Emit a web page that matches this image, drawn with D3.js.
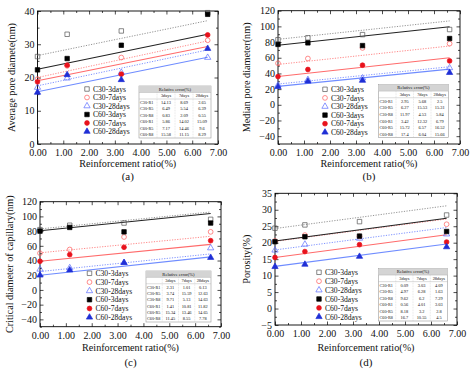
<!DOCTYPE html>
<html>
<head>
<meta charset="utf-8">
<script src="https://cdn.jsdelivr.net/npm/d3@7"></script>
<style>
  body { margin: 0; background: #fff; }
  svg { display: block; }
  text { font-family: "Liberation Serif", "Times New Roman", serif; fill: #111; }
</style>
</head>
<body>
<script>
// Datos
const ratios = [0, 1.15, 3.25, 6.6];
const seriesNames = ["C30-3days", "C30-7days", "C30-28days", "C60-3days", "C60-7days", "C60-28days"];
const rowNames = ["C30-R1", "C30-R5", "C30-R8", "C60-R1", "C60-R5", "C60-R8"];
const ageCols = ["3days", "7days", "28days"];

// (a) diametro medio de poro
const avgPore = [[26.3, 33, 34, 39.5], [19.5, 23.5, 26, 31.2], [17, 19.8, 21.5, 26], [22.3, 25.7, 29.7, 39], [18.7, 23.7, 21, 32.8], [15.5, 20.8, 19.3, 28.7]];
const avgPoreFit = [[26.6, 37.1], [20, 31], [17.5, 28.3], [22.5, 33], [19, 29.3], [15.7, 26.1]];
const avgPoreErr = [["14.13", "8.69", "2.65"], ["6.49", "5.54", "6.39"], ["0.83", "2.09", "0.55"], ["5.86", "14.02", "15.09"], ["7.17", "14.46", "9.6"], ["15.58", "11.15", "8.29"]];

// (b) diametro mediano
const medPore = [[83, 85.5, 89.5, 96], [53, 59, 72.5, 78], [25, 32, 34, 47], [77, 79, 75.5, 84.5], [36, 45, 50.5, 56], [23, 30, 31, 41]];
const medPoreFit = [[83.5, 107], [51.5, 75], [26.5, 48.5], [76, 99.5], [36, 60], [23.5, 45.5]];
const medPoreErr = [["2.95", "5.68", "2.5"], ["6.27", "15.53", "15.31"], ["11.97", "4.53", "5.84"], ["3.42", "12.32", "6.79"], ["15.72", "6.57", "16.52"], ["17.4", "6.04", "15.66"]];

// (c) diametro critico
const critDia = [[82, 88, 91, 96], [50, 55, 72, 79], [28, 30, 37, 57], [80, 85, 79, 91], [39, 48, 58, 67], [20, 27, 37, 44]];
const critDiaFit = [[83, 106], [50.5, 73], [25, 49], [80.5, 104], [39, 62], [20, 45]];
const critDiaErr = [["2.31", "1.01", "0.13"], ["3.74", "15.59", "12.63"], ["9.71", "5.13", "14.63"], ["1.41", "10.81", "11.82"], ["15.34", "13.46", "14.65"], ["11.45", "8.55", "7.78"]];

// (d) porosidad
const porosity = [[24.4, 25.4, 26.4, 28.4], [20.5, 22.3, 21.9, 25.6], [17.7, 19.5, 21.3, 22.6], [20.3, 21.8, 22.0, 23.4], [15.5, 17.3, 19.4, 20.2], [12.7, 13.4, 15.8, 18.7]];
const porosityFit = [[24.3, 31.2], [20.4, 27.2], [17.8, 24.6], [20.5, 27.4], [15.5, 22.4], [12.8, 19.6]];
const porosityErr = [["0.09", "3.03", "4.09"], ["4.97", "6.28", "1.63"], ["9.62", "6.2", "7.29"], ["0.56", "4.01", "3.03"], ["8.18", "3.2", "2.8"], ["16.7", "10.55", "4.5"]];

const WIDTH = 474;
const HEIGHT = 375;

// Estilo de cada serie
const STYLE = [
  { symbol: d3.symbolSquare, fill: "none", stroke: "#555", line: "#888", dash: "1.2,1.4" },
  { symbol: d3.symbolCircle, fill: "none", stroke: "#ff5a5a", line: "#ff7b7b", dash: "1.2,1.4" },
  { symbol: d3.symbolTriangle, fill: "none", stroke: "#5a6cff", line: "#6f86ff", dash: "1.2,1.4" },
  { symbol: d3.symbolSquare, fill: "#000", stroke: "#000", line: "#222", dash: null },
  { symbol: d3.symbolCircle, fill: "#e8121c", stroke: "#e8121c", line: "#ff6b6b", dash: null },
  { symbol: d3.symbolTriangle, fill: "#1f2fd6", stroke: "#1f2fd6", line: "#6f8cff", dash: null },
];

const panels = [
  { label: "(a)", yTitle: "Average pore diamete(nm)", values: avgPore, fits: avgPoreFit, errors: avgPoreErr,
    yDomain: [0, 40], major: 10, minor: 5,
    box: { l: 37.5, r: 218, t: 11, b: 144 }, legend: { x: 87, y: 89, step: 8.5 },
    table: { x: 139, y: 86, w: 72, h: 52 }, yTitleX: 15, tickY: 156, titleY: 167, labelY: 180 },
  { label: "(b)", yTitle: "Median pore diameter(nm)", values: medPore, fits: medPoreFit, errors: medPoreErr,
    yDomain: [-50, 120], major: 20, minor: 10,
    box: { l: 278, r: 460, t: 10.7, b: 144 }, legend: { x: 325, y: 89.3, step: 8.6 },
    table: { x: 378.5, y: 84.5, w: 70, h: 53 }, yTitleX: 250, tickY: 156, titleY: 167, labelY: 180 },
  { label: "(c)", yTitle: "Critical diameter of capillary(nm)", values: critDia, fits: critDiaFit, errors: critDiaErr,
    yDomain: [-50, 120], major: 20, minor: 10,
    box: { l: 40, r: 221, t: 201.7, b: 326.7 }, legend: { x: 89.5, y: 273.3, step: 8.8 },
    table: { x: 146, y: 271, w: 65, h: 51 }, yTitleX: 13, tickY: 339, titleY: 350.5, labelY: 366 },
  { label: "(d)", yTitle: "Porosity(%)", values: porosity, fits: porosityFit, errors: porosityErr,
    yDomain: [-5, 35], major: 5, minor: 2.5,
    box: { l: 275, r: 457, t: 193.3, b: 325 }, legend: { x: 319, y: 272.3, step: 8.9 },
    table: { x: 378.5, y: 268.5, w: 69, h: 52.5 }, yTitleX: 250, tickY: 337, titleY: 350.5, labelY: 366 },
];

const svg = d3.select("body").append("svg")
  .attr("width", WIDTH)
  .attr("height", HEIGHT);

function rango(a, b, paso) {
  return d3.range(Math.round((b - a) / paso) + 1).map(i => a + i * paso);
}

function dibujarPanel(p) {
  const g = svg.append("g");
  const escalaX = d3.scaleLinear().domain([0, 7]).range([p.box.l, p.box.r]);
  const escalaY = d3.scaleLinear().domain(p.yDomain).range([p.box.b, p.box.t]);

  const xMayor = rango(0, 7, 1);
  const xMenor = rango(0, 7, 0.5).filter(v => v % 1 !== 0);
  const primero = Math.ceil(p.yDomain[0] / p.major) * p.major;
  const yMayor = rango(primero, p.yDomain[1], p.major);
  const yMenor = rango(p.yDomain[0], p.yDomain[1], p.minor).filter(v => !yMayor.includes(v));

  // ejes con ticks hacia adentro
  const ejeAbajo = g.append("g").attr("transform", `translate(0,${p.box.b})`)
    .call(d3.axisBottom(escalaX).tickValues(xMayor).tickSize(-3.5).tickPadding(3).tickFormat(d3.format(".2f")));
  ejeAbajo.selectAll("text").attr("font-size", 10).attr("y", p.tickY - p.box.b).attr("dy", 0);
  g.append("g").attr("transform", `translate(0,${p.box.b})`)
    .call(d3.axisBottom(escalaX).tickValues(xMenor).tickSize(-2).tickFormat(""));
  g.append("g").attr("transform", `translate(0,${p.box.t})`)
    .call(d3.axisTop(escalaX).tickValues(xMayor).tickSize(-3.5).tickFormat(""));
  g.append("g").attr("transform", `translate(0,${p.box.t})`)
    .call(d3.axisTop(escalaX).tickValues(xMenor).tickSize(-2).tickFormat(""));

  const ejeIzq = g.append("g").attr("transform", `translate(${p.box.l},0)`)
    .call(d3.axisLeft(escalaY).tickValues(yMayor).tickSize(-3.5).tickPadding(3).tickFormat(d3.format("d")));
  ejeIzq.selectAll("text").attr("font-size", 10);
  g.append("g").attr("transform", `translate(${p.box.l},0)`)
    .call(d3.axisLeft(escalaY).tickValues(yMenor).tickSize(-2).tickFormat(""));
  g.append("g").attr("transform", `translate(${p.box.r},0)`)
    .call(d3.axisRight(escalaY).tickValues(yMayor).tickSize(-3.5).tickFormat(""));
  g.append("g").attr("transform", `translate(${p.box.r},0)`)
    .call(d3.axisRight(escalaY).tickValues(yMenor).tickSize(-2).tickFormat(""));

  g.selectAll(".domain").remove();
  g.selectAll(".tick line").attr("stroke", "#000").attr("stroke-width", 0.7);

  // marco
  g.append("rect")
    .attr("x", p.box.l).attr("y", p.box.t)
    .attr("width", p.box.r - p.box.l).attr("height", p.box.b - p.box.t)
    .attr("fill", "none").attr("stroke", "#000").attr("stroke-width", 0.9);

  // lineas de ajuste
  const linea = d3.line().x(d => escalaX(d[0])).y(d => escalaY(d[1]));
  const xFin = ratios[ratios.length - 1];
  g.append("g").selectAll("path")
    .data(p.fits)
    .join("path")
    .attr("d", f => linea([[0, f[0]], [xFin, f[1]]]))
    .attr("fill", "none")
    .attr("stroke", (f, i) => STYLE[i].line)
    .attr("stroke-width", (f, i) => STYLE[i].dash ? 0.9 : 1.1)
    .attr("stroke-dasharray", (f, i) => STYLE[i].dash);

  // puntos
  const simbolo = (i) => d3.symbol().type(STYLE[i].symbol).size(i % 3 === 1 ? 18 : (i % 3 === 2 ? 17 : 20))();
  p.values.forEach((serie, i) => {
    g.append("g").selectAll("path")
      .data(serie.map((v, k) => [ratios[k], v]))
      .join("path")
      .attr("d", simbolo(i))
      .attr("transform", d => `translate(${escalaX(d[0])},${escalaY(d[1])})`)
      .attr("fill", STYLE[i].fill)
      .attr("stroke", STYLE[i].stroke)
      .attr("stroke-width", 0.7);
  });

  // leyenda
  const leyenda = g.append("g");
  seriesNames.forEach((nombre, i) => {
    const y = p.legend.y + i * p.legend.step;
    leyenda.append("path")
      .attr("d", simbolo(i))
      .attr("transform", `translate(${p.legend.x},${y})`)
      .attr("fill", STYLE[i].fill)
      .attr("stroke", STYLE[i].stroke)
      .attr("stroke-width", 0.7);
    leyenda.append("text")
      .attr("x", p.legend.x + 6)
      .attr("y", y + 2.7)
      .attr("font-size", 7.6)
      .text(nombre);
  });

  // tabla de error relativo
  const t = p.table;
  const tabla = g.append("g");
  const altoFila = t.h / 8;
  const anchoEtiqueta = t.w * 0.25;
  const anchoCol = (t.w - anchoEtiqueta) / 3;
  tabla.append("rect").attr("x", t.x).attr("y", t.y).attr("width", t.w).attr("height", t.h)
    .attr("fill", "#fff").attr("stroke", "#999").attr("stroke-width", 0.6);
  tabla.append("rect").attr("x", t.x).attr("y", t.y).attr("width", t.w).attr("height", altoFila)
    .attr("fill", "#d4d4d4");
  tabla.append("text")
    .attr("x", t.x + t.w / 2).attr("y", t.y + altoFila * 0.75)
    .attr("text-anchor", "middle").attr("font-size", 4.6).attr("fill", "#333")
    .text("Relative error(%)");
  [1, 2].forEach(r => {
    tabla.append("line")
      .attr("x1", t.x).attr("x2", t.x + t.w)
      .attr("y1", t.y + r * altoFila).attr("y2", t.y + r * altoFila)
      .attr("stroke", "#aaa").attr("stroke-width", 0.4);
  });
  [0, 1, 2].forEach(c => {
    const x = t.x + anchoEtiqueta + c * anchoCol;
    tabla.append("line")
      .attr("x1", x).attr("x2", x)
      .attr("y1", t.y + altoFila).attr("y2", t.y + t.h)
      .attr("stroke", "#bbb").attr("stroke-width", 0.4).attr("stroke-dasharray", "0.8,0.8");
    tabla.append("text")
      .attr("x", x + anchoCol / 2).attr("y", t.y + altoFila * 1.75)
      .attr("text-anchor", "middle").attr("font-size", 4.4).attr("fill", "#333")
      .text(ageCols[c]);
  });
  rowNames.forEach((fila, r) => {
    const y = t.y + altoFila * (2.75 + r);
    tabla.append("text")
      .attr("x", t.x + 1).attr("y", y)
      .attr("font-size", 4.2).attr("fill", "#333")
      .text(fila);
    p.errors[r].forEach((v, c) => {
      tabla.append("text")
        .attr("x", t.x + anchoEtiqueta + c * anchoCol + anchoCol / 2).attr("y", y)
        .attr("text-anchor", "middle").attr("font-size", 4.4).attr("fill", "#333")
        .text(v);
    });
  });

  // titulos
  const cx = (p.box.l + p.box.r) / 2;
  g.append("text")
    .attr("x", cx).attr("y", p.titleY)
    .attr("text-anchor", "middle").attr("font-size", 10.2)
    .text("Reinforcement ratio(%)");
  g.append("text")
    .attr("transform", `translate(${p.yTitleX},${(p.box.t + p.box.b) / 2}) rotate(-90)`)
    .attr("text-anchor", "middle").attr("font-size", 10.2)
    .text(p.yTitle);
  g.append("text")
    .attr("x", cx).attr("y", p.labelY)
    .attr("text-anchor", "middle").attr("font-size", 11)
    .text(p.label);
}

panels.forEach(dibujarPanel);
</script>
</body>
</html>
